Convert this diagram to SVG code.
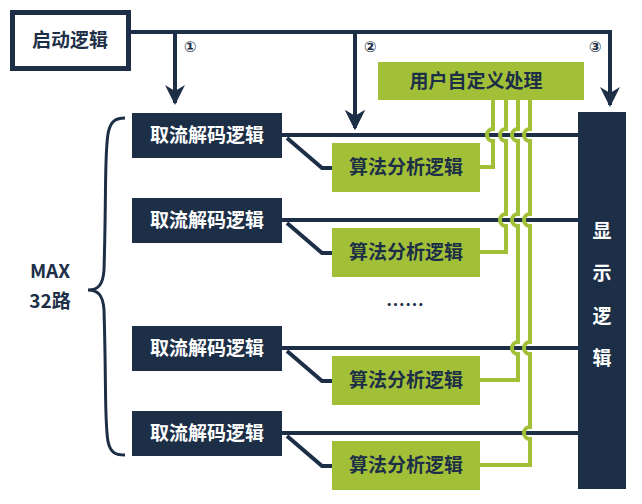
<svg xmlns="http://www.w3.org/2000/svg" width="642" height="504" viewBox="0 0 642 504">
<defs>
<style>
.d{fill:#1d2f47}
.g{fill:#a2c037}
.t{font-family:"Noto Sans CJK SC",sans-serif;font-weight:bold;font-size:19px;text-anchor:middle}
.w{fill:#fff}
.k{fill:#1d2f47}
.ln{stroke:#1d2f47;stroke-width:4;fill:none}
.gl{stroke:#a2c037;stroke-width:4;fill:none}
</style>
<marker id="a" viewBox="0 0 10 10" refX="9" refY="5" markerWidth="5" markerHeight="5" orient="auto"><path d="M0,0L10,5L0,10L3,5z" fill="#1d2f47"/></marker>
</defs>
<g id="connectors">
<path class="ln" d="M131,32H610V105M175,32V103M355,32V128" marker-end="url(#a)"/>
<path class="ln" d="M175,32V103" marker-end="url(#a)"/>
<path class="ln" d="M355,32V128" marker-end="url(#a)"/>
<path class="ln" d="M610,32V105" marker-end="url(#a)"/>
<path class="ln" d="M282,135H580M287,138L322,168H332"/>
<path class="ln" d="M282,220H580M287,223L322,253H332"/>
<path class="ln" d="M282,348H580M287,351L322,381H332"/>
<path class="ln" d="M282,433H580M287,436L322,466H332"/>
<path class="gl" d="M480,167H493V141A6,6 0 0 1 493,129V100"/>
<path class="gl" d="M480,252H506V226A6,6 0 0 1 506,214V141A6,6 0 0 1 506,129V100"/>
<path class="gl" d="M480,380H518V354A6,6 0 0 1 518,342V226A6,6 0 0 1 518,214V141A6,6 0 0 1 518,129V100"/>
<path class="gl" d="M480,465H530V439A6,6 0 0 1 530,427V354A6,6 0 0 1 530,342V226A6,6 0 0 1 530,214V141A6,6 0 0 1 530,129V100"/>
<path d="M125,118C100,118 108,140 104,270C103,285 98,290 88,290C98,290 103,295 104,310C108,440 100,455 125,455" fill="none" stroke="#1d2f47" stroke-width="3"/>
</g>
<g id="start"><rect x="12.5" y="12.5" width="116" height="56" fill="#fff" stroke="#1d2f47" stroke-width="5"/><text class="t k" x="70" y="47">启动逻辑</text></g>
<g id="labels" font-family="DejaVu Sans" font-size="15" font-weight="bold" fill="#1d2f47" text-anchor="middle">
<text x="190" y="52">①</text><text x="370" y="52">②</text><text x="595" y="52">③</text>
</g>
<g id="user"><rect class="g" x="378" y="62" width="206" height="38"/><text class="t k" x="476" y="88">用户自定义处理</text></g>
<g id="decode1"><rect class="d" x="132" y="113" width="150" height="45"/><text class="t w" x="207" y="142">取流解码逻辑</text></g>
<g id="decode2"><rect class="d" x="132" y="198" width="150" height="45"/><text class="t w" x="207" y="227">取流解码逻辑</text></g>
<g id="decode3"><rect class="d" x="132" y="326" width="150" height="45"/><text class="t w" x="207" y="355">取流解码逻辑</text></g>
<g id="decode4"><rect class="d" x="132" y="411" width="150" height="45"/><text class="t w" x="207" y="440">取流解码逻辑</text></g>
<g id="algo1"><rect class="g" x="332" y="143" width="148" height="49"/><text class="t k" x="406" y="174">算法分析逻辑</text></g>
<g id="algo2"><rect class="g" x="332" y="228" width="148" height="49"/><text class="t k" x="406" y="259">算法分析逻辑</text></g>
<g id="algo3"><rect class="g" x="332" y="356" width="148" height="49"/><text class="t k" x="406" y="387">算法分析逻辑</text></g>
<g id="algo4"><rect class="g" x="332" y="441" width="148" height="49"/><text class="t k" x="406" y="472">算法分析逻辑</text></g>
<g id="display"><rect class="d" x="578" y="112" width="48" height="377"/>
<text class="t w" x="602" y="238">显</text><text class="t w" x="602" y="280">示</text><text class="t w" x="602" y="323">逻</text><text class="t w" x="602" y="365">辑</text></g>
<text class="t k" x="405" y="312">……</text>
<text class="t k" x="50" y="278">MAX</text>
<text class="t k" x="50" y="308">32路</text>
</svg>
